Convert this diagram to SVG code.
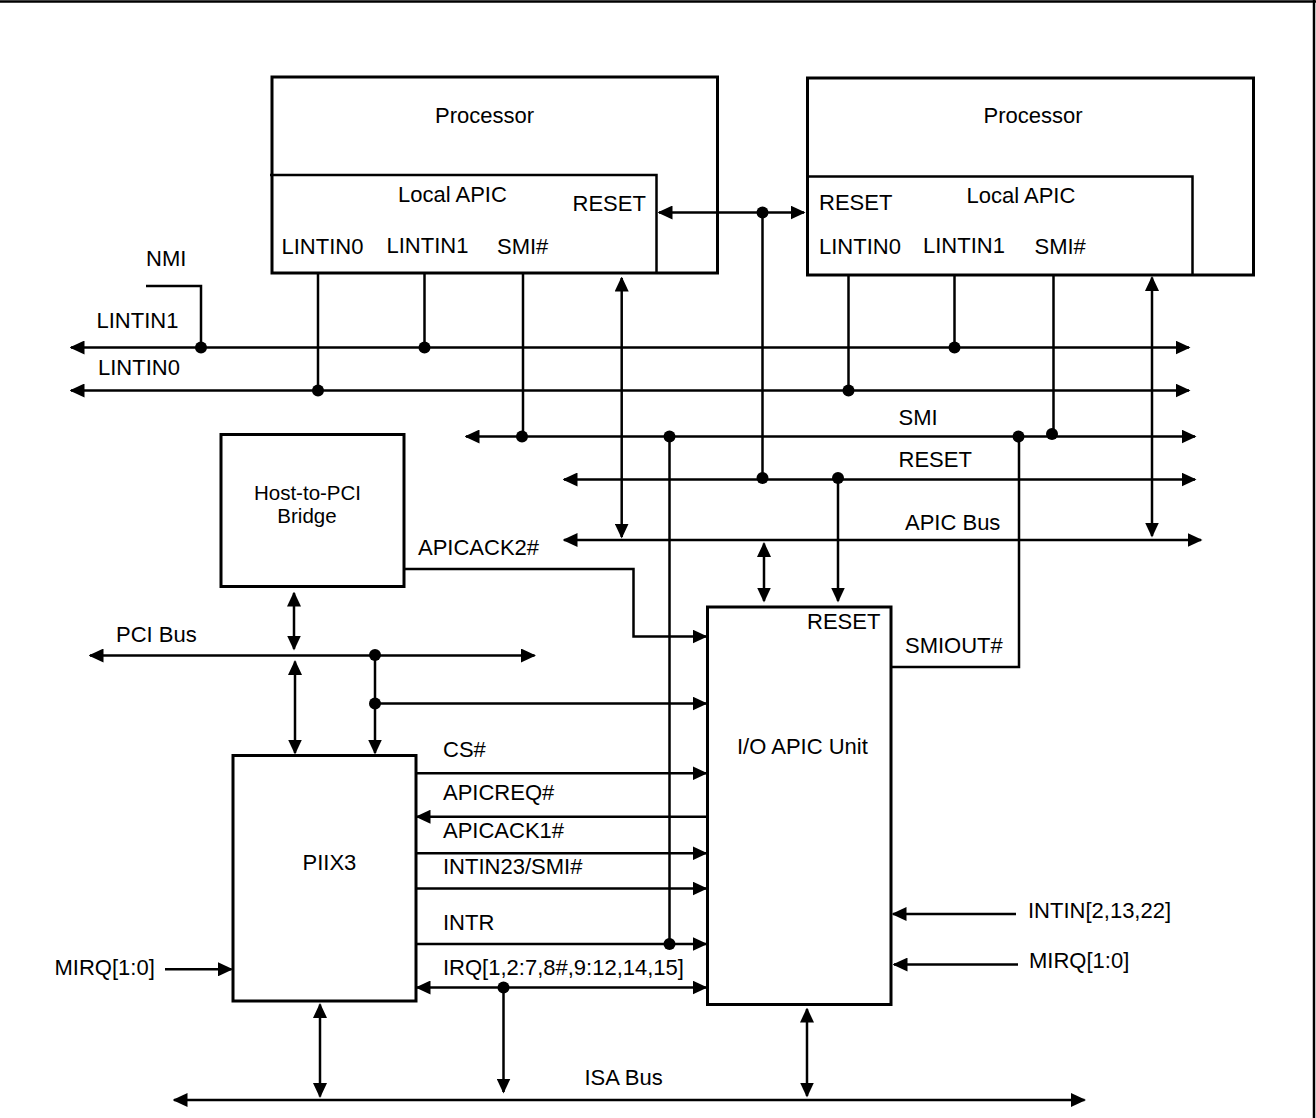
<svg xmlns="http://www.w3.org/2000/svg" width="1316" height="1118" viewBox="0 0 1316 1118">
<style>
text{font-family:"Liberation Sans",Arial,sans-serif;font-size:22px;fill:#000}
.box{fill:none;stroke:#000;stroke-width:3}
.inner{fill:none;stroke:#000;stroke-width:2.5}
.w{fill:none;stroke:#000;stroke-width:2.5}
.dot{fill:#000}
.sm{font-size:20.5px}
</style>
<defs>
<marker id="a" viewBox="0 0 15 14" markerWidth="15" markerHeight="14" refX="13.5" refY="7" orient="auto-start-reverse" markerUnits="userSpaceOnUse">
<path d="M0,0 L15,7 L0,14 z" fill="#000"/>
</marker>
</defs>
<rect width="1316" height="1118" fill="#fff"/>
<g id="frame">
<line x1="0" y1="1.5" x2="1316" y2="1.5" stroke="#000" stroke-width="2.5"/>
<line x1="1314" y1="0" x2="1314" y2="1118" stroke="#000" stroke-width="2.5"/>
</g>
<g id="processor1">
<rect class="box" x="272" y="77" width="445.5" height="196"/>
<path class="inner" d="M270,175 H656.5 V273"/>
<text x="435" y="123">Processor</text>
<text x="398" y="201.5">Local APIC</text>
<text x="572.5" y="211">RESET</text>
<text x="281.5" y="254">LINTIN0</text>
<text x="386.5" y="253">LINTIN1</text>
<text x="497" y="254">SMI#</text>
</g>
<g id="processor2">
<rect class="box" x="807.5" y="78" width="446" height="197"/>
<path class="inner" d="M806,176.5 H1192.5 V275"/>
<text x="983.5" y="123">Processor</text>
<text x="966.5" y="203">Local APIC</text>
<text x="819" y="210">RESET</text>
<text x="819" y="254">LINTIN0</text>
<text x="923" y="253">LINTIN1</text>
<text x="1034.5" y="254">SMI#</text>
</g>
<g id="bridge">
<rect class="box" x="221" y="434.5" width="183" height="152"/>
<text class="sm" x="307.5" y="499.5" text-anchor="middle">Host-to-PCI</text>
<text class="sm" x="307" y="522.5" text-anchor="middle">Bridge</text>
</g>
<g id="piix3">
<rect class="box" x="233" y="755.5" width="183" height="245.5"/>
<text x="302.5" y="870">PIIX3</text>
</g>
<g id="ioapic">
<rect class="box" x="707.5" y="607" width="183.5" height="397.5"/>
<text x="807" y="628.5">RESET</text>
<text x="737" y="754">I/O APIC Unit</text>
</g>
<g id="connectors">
<line class="w" x1="659" y1="212.5" x2="804" y2="212.5" marker-start="url(#a)" marker-end="url(#a)"/>
<line class="w" x1="762.5" y1="212.5" x2="762.5" y2="478"/>
<path class="w" d="M146,286 H201 V347.5" stroke-width="3"/>
<line class="w" x1="71" y1="347.5" x2="1189" y2="347.5" marker-start="url(#a)" marker-end="url(#a)"/>
<line class="w" x1="424.5" y1="273" x2="424.5" y2="347.5"/>
<line class="w" x1="954.5" y1="275" x2="954.5" y2="347.5"/>
<line class="w" x1="71" y1="390.5" x2="1189" y2="390.5" marker-start="url(#a)" marker-end="url(#a)"/>
<line class="w" x1="318" y1="273" x2="318" y2="390.5"/>
<line class="w" x1="848.5" y1="275" x2="848.5" y2="390.5"/>
<line class="w" x1="466" y1="436.5" x2="1195" y2="436.5" marker-start="url(#a)" marker-end="url(#a)"/>
<line class="w" x1="523" y1="273" x2="523" y2="436.5"/>
<line class="w" x1="1053.5" y1="275" x2="1053.5" y2="434"/>
<line class="w" x1="564" y1="479.5" x2="1195" y2="479.5" marker-start="url(#a)" marker-end="url(#a)"/>
<line class="w" x1="564" y1="540" x2="1201" y2="540" marker-start="url(#a)" marker-end="url(#a)"/>
<line class="w" x1="621.7" y1="278" x2="621.7" y2="537" marker-start="url(#a)" marker-end="url(#a)"/>
<line class="w" x1="1152" y1="277.5" x2="1152" y2="536" marker-start="url(#a)" marker-end="url(#a)"/>
<line class="w" x1="764" y1="543.5" x2="764" y2="601" marker-start="url(#a)" marker-end="url(#a)"/>
<line class="w" x1="838" y1="478" x2="838" y2="601" marker-end="url(#a)"/>
<path class="w" d="M891,667 H1019 V436.5"/>
<line class="w" x1="669.5" y1="436.5" x2="669.5" y2="944"/>
<path class="w" d="M404,569 H633.5 V636.5 H706" marker-end="url(#a)"/>
<line class="w" x1="294" y1="593" x2="294" y2="649" marker-start="url(#a)" marker-end="url(#a)"/>
<line class="w" x1="90" y1="655.5" x2="534.5" y2="655.5" marker-start="url(#a)" marker-end="url(#a)"/>
<line class="w" x1="295" y1="661.5" x2="295" y2="753" stroke-width="3" marker-start="url(#a)" marker-end="url(#a)"/>
<line class="w" x1="375" y1="655" x2="375" y2="753" stroke-width="3" marker-end="url(#a)"/>
<line class="w" x1="375" y1="703.5" x2="706" y2="703.5" stroke-width="3" marker-end="url(#a)"/>
<line class="w" x1="416" y1="773.3" x2="706" y2="773.3" marker-end="url(#a)"/>
<line class="w" x1="707.5" y1="816.7" x2="417" y2="816.7" marker-end="url(#a)"/>
<line class="w" x1="416" y1="853.3" x2="706" y2="853.3" marker-end="url(#a)"/>
<line class="w" x1="416" y1="888.5" x2="706" y2="888.5" marker-end="url(#a)"/>
<line class="w" x1="416" y1="944" x2="706" y2="944" stroke-width="3" marker-end="url(#a)"/>
<line class="w" x1="417" y1="987.5" x2="706" y2="987.5" marker-start="url(#a)" marker-end="url(#a)"/>
<line class="w" x1="503.5" y1="987.5" x2="503.5" y2="1092" stroke-width="3" marker-end="url(#a)"/>
<line class="w" x1="165" y1="969.3" x2="231.5" y2="969.3" marker-end="url(#a)"/>
<line class="w" x1="320" y1="1004.5" x2="320" y2="1096.5" marker-start="url(#a)" marker-end="url(#a)"/>
<line class="w" x1="174" y1="1100" x2="1084.5" y2="1100" stroke-width="3" marker-start="url(#a)" marker-end="url(#a)"/>
<line class="w" x1="807" y1="1009" x2="807" y2="1096" stroke-width="3" marker-start="url(#a)" marker-end="url(#a)"/>
<line class="w" x1="1016" y1="914" x2="893" y2="914" marker-end="url(#a)"/>
<line class="w" x1="1018" y1="964.6" x2="894" y2="964.6" stroke-width="3" marker-end="url(#a)"/>
<circle class="dot" cx="762.5" cy="212.5" r="6"/>
<circle class="dot" cx="762.5" cy="478" r="6"/>
<circle class="dot" cx="201" cy="347.5" r="6"/>
<circle class="dot" cx="424.5" cy="347.5" r="6"/>
<circle class="dot" cx="954.5" cy="347.5" r="6"/>
<circle class="dot" cx="318" cy="390.5" r="6"/>
<circle class="dot" cx="848.5" cy="390.5" r="6"/>
<circle class="dot" cx="522" cy="436.5" r="6"/>
<circle class="dot" cx="669.5" cy="436.5" r="6"/>
<circle class="dot" cx="1018.5" cy="436.5" r="6"/>
<circle class="dot" cx="1052" cy="434" r="6"/>
<circle class="dot" cx="838" cy="478" r="6"/>
<circle class="dot" cx="375" cy="655" r="6"/>
<circle class="dot" cx="375" cy="703.5" r="6"/>
<circle class="dot" cx="669.5" cy="944" r="6"/>
<circle class="dot" cx="503.5" cy="987.5" r="6"/>
</g>
<g id="labels">
<text x="146" y="266">NMI</text>
<text x="96.5" y="328">LINTIN1</text>
<text x="98" y="375">LINTIN0</text>
<text x="898.5" y="425">SMI</text>
<text x="898.5" y="467">RESET</text>
<text x="905" y="530">APIC Bus</text>
<text x="418" y="555">APICACK2#</text>
<text x="116" y="641.5">PCI Bus</text>
<text x="905" y="652.5">SMIOUT#</text>
<text x="443" y="757">CS#</text>
<text x="443" y="799.5">APICREQ#</text>
<text x="443" y="837.5">APICACK1#</text>
<text x="443" y="873.5">INTIN23/SMI#</text>
<text x="443" y="930">INTR</text>
<text x="443" y="974.5">IRQ[1,2:7,8#,9:12,14,15]</text>
<text x="54.5" y="974.5">MIRQ[1:0]</text>
<text x="1028" y="918">INTIN[2,13,22]</text>
<text x="1029" y="967.5">MIRQ[1:0]</text>
<text x="584.5" y="1084.5">ISA Bus</text>
</g>
</svg>
